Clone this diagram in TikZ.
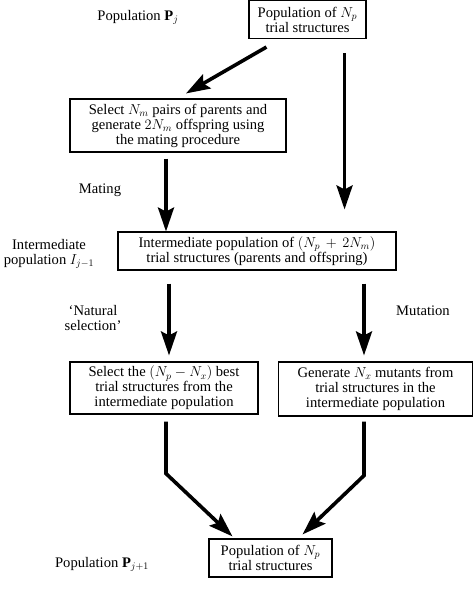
\documentclass[tikz,border=0pt]{standalone}
\usepackage{fontspec}
\setmainfont{Liberation Serif}
\usetikzlibrary{arrows.meta,calc}

\begin{document}
\begin{tikzpicture}[x=1pt,y=-1pt,
    box/.style={draw,line width=1.1pt,align=center,inner sep=1pt,
                font=\fontsize{14.6}{15}\selectfont},
    lbl/.style={align=center,font=\fontsize{14.6}{15}\selectfont},
    arr/.style={line width=3.6pt,-{Stealth[length=24pt,width=16pt,inset=4pt]}}]

            \useasboundingbox (0,0) rectangle (474,603);

            \node[box,minimum width=117,minimum height=38] (popj) at (307.5,19.5)
                {Population of $N_p$\\trial structures};
            \node[lbl] (lblPj) at (138,17) {Population $\mathbf{P}_j$};

            \node[box,minimum width=216,minimum height=53] (mate) at (178,125.5)
                {Select $N_m$ pairs of parents and\\generate $2N_m$ offspring using\\the mating procedure};
            \node[lbl] (lblmate) at (100,190) {Mating};

            \node[box,minimum width=278,minimum height=38] (inter) at (257,251)
                {Intermediate population of $(N_p\,+\,2N_m)$\\trial structures (parents and offspring)};
            \node[lbl] (lblinter) at (49,254) {Intermediate\\population $I_{j-1}$};

            \node[lbl] (lblsel) at (93,318) {`Natural\\selection'};
            \node[lbl] (lblmut) at (423,311) {Mutation};

            \node[box,minimum width=188,minimum height=52] (sel) at (164,388)
                {Select the $(N_p - N_x)$ best\\trial structures from the\\intermediate population};
            \node[box,minimum width=194,minimum height=54] (mut) at (375.5,389)
                {Generate $N_x$ mutants from\\trial structures in the\\intermediate population};

            \node[box,minimum width=123,minimum height=38] (popk) at (270.5,558)
                {Population of $N_p$\\trial structures};
            \node[lbl] (lblPk) at (102,564) {Population $\mathbf{P}_{j+1}$};

            % arrows
            \draw[arr] ($(popj.south west)+(18,8)$) -- ($(mate.north)+(8,-5)$);
            \draw[arr] ($(popj.south east)+(-22,14)$) -- ($(inter.north east)+(-52,-22)$);
            \draw[arr] ($(mate.south)+(-12,6)$) -- ($(mate.south -| inter.north)+(-91,79)$);
            \draw[arr] ($(inter.south -| sel.north)+(5,13)$) -- ($(sel.north)+(5,-6)$);
            \draw[arr] ($(inter.south -| mut.north)+(-11.5,13)$) -- ($(mut.north)+(-11.5,-6)$);
            \draw[arr] ($(sel.south)+(2,7)$) -- ++(0,52) -- ($(popk.north)+(-38,-2)$);
            \draw[arr] ($(mut.south)+(-11.5,5)$) -- ++(0,54) -- ($(popk.north)+(32,-4)$);
        \end{tikzpicture}
\end{document}
